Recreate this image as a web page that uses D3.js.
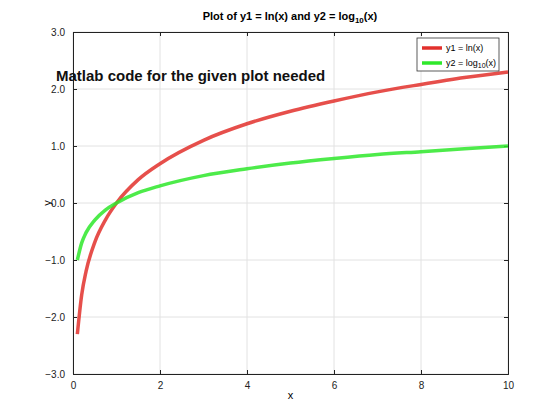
<!DOCTYPE html>
<html>
<head>
<meta charset="utf-8">
<script src="https://cdn.jsdelivr.net/npm/d3@7"></script>
<style>
  body { margin: 0; background: #fff; font-family: "Liberation Sans", Arial, sans-serif; }
</style>
</head>
<body>
<div id="chart"></div>
<script>
// data
const xs = [0.1, 0.2, 0.3, 0.5, 0.75, 1, 1.5, 2, 3, 4, 5, 6, 7, 8, 9, 10];
const y1 = [-2.30, -1.61, -1.20, -0.69, -0.29, 0, 0.41, 0.69, 1.10, 1.39, 1.61, 1.79, 1.95, 2.08, 2.20, 2.30];
const y2 = [-1.00, -0.70, -0.52, -0.30, -0.12, 0, 0.18, 0.30, 0.48, 0.60, 0.70, 0.78, 0.85, 0.90, 0.95, 1.00];
const xTicks = [0, 2, 4, 6, 8, 10];
const yTicks = [-3, -2, -1, 0, 1, 2, 3];

const width = 560, height = 420;
const mLeft = 73, mRight = 508, mTop = 32, mBottom = 374;

const svg = d3.select("#chart").append("svg")
  .attr("width", width).attr("height", height)
  .attr("font-family", "Liberation Sans, Arial, sans-serif");

const x = d3.scaleLinear().domain([0, 10]).range([mLeft, mRight]);
const y = d3.scaleLinear().domain([-3, 3]).range([mBottom, mTop]);

// grid
svg.append("g").selectAll("line").data(xTicks).join("line")
  .attr("x1", d => x(d)).attr("x2", d => x(d)).attr("y1", mTop).attr("y2", mBottom)
  .attr("stroke", "#e2e2e2");
svg.append("g").selectAll("line").data(yTicks).join("line")
  .attr("y1", d => y(d)).attr("y2", d => y(d)).attr("x1", mLeft).attr("x2", mRight)
  .attr("stroke", "#e2e2e2");

// axes
svg.append("g").attr("transform", `translate(0,${mBottom})`)
  .call(d3.axisBottom(x).tickValues(xTicks).tickSize(-4).tickPadding(8));
svg.append("g").attr("transform", `translate(${mLeft},0)`)
  .call(d3.axisLeft(y).tickValues(yTicks).tickSize(-4).tickPadding(8));
svg.append("g").attr("transform", `translate(0,${mTop})`)
  .call(d3.axisTop(x).tickValues(xTicks).tickSize(-4).tickFormat(""));
svg.append("g").attr("transform", `translate(${mRight},0)`)
  .call(d3.axisRight(y).tickValues(yTicks).tickSize(-4).tickFormat(""));
svg.selectAll(".domain, .tick line").attr("stroke", "#222");
svg.selectAll(".tick text").attr("font-size", 10).attr("fill", "#222");

// curves
const line = d3.line().x(d => x(d[0])).y(d => y(d[1])).curve(d3.curveMonotoneX);
svg.append("path").datum(xs.map((v, i) => [v, y1[i]]))
  .attr("d", line).attr("fill", "none").attr("stroke", "#e2302c")
  .attr("stroke-opacity", 0.85).attr("stroke-width", 3.5);
svg.append("path").datum(xs.map((v, i) => [v, y2[i]]))
  .attr("d", line).attr("fill", "none").attr("stroke", "#2ee82a")
  .attr("stroke-opacity", 0.85).attr("stroke-width", 3.5);

// labels
svg.append("text").attr("x", (mLeft + mRight) / 2).attr("y", 399)
  .attr("text-anchor", "middle").attr("font-size", 11).text("x");
svg.append("text").attr("transform", `translate(51,${(mTop + mBottom) / 2}) rotate(-90)`)
  .attr("text-anchor", "middle").attr("font-size", 11).text("y");

const title = svg.append("text").attr("x", 290).attr("y", 20)
  .attr("text-anchor", "middle").attr("font-size", 11).attr("font-weight", "bold");
title.append("tspan").text("Plot of y1 = ln(x) and y2 = log");
title.append("tspan").attr("font-size", 8).attr("dy", 3).text("10");
title.append("tspan").attr("dy", -3).text("(x)");

svg.append("text").attr("x", 56).attr("y", 81)
  .attr("font-size", 15).attr("font-weight", "bold").attr("fill", "#111")
  .text("Matlab code for the given plot needed");

// legend
const lg = svg.append("g").attr("transform", "translate(417,38)");
lg.append("rect").attr("width", 82).attr("height", 33)
  .attr("fill", "#fff").attr("stroke", "#333").attr("stroke-width", 0.8);
["#e2302c", "#2ee82a"].forEach((c, i) => {
  lg.append("line").attr("x1", 5).attr("x2", 25).attr("y1", 10 + i * 15).attr("y2", 10 + i * 15)
    .attr("stroke", c).attr("stroke-width", 3.5);
});
lg.append("text").attr("x", 29).attr("y", 13).attr("font-size", 9).text("y1 = ln(x)");
const l2 = lg.append("text").attr("x", 29).attr("y", 28).attr("font-size", 9);
l2.append("tspan").text("y2 = log");
l2.append("tspan").attr("font-size", 7).attr("dy", 2).text("10");
l2.append("tspan").attr("dy", -2).text("(x)");
</script>
</body>
</html>
